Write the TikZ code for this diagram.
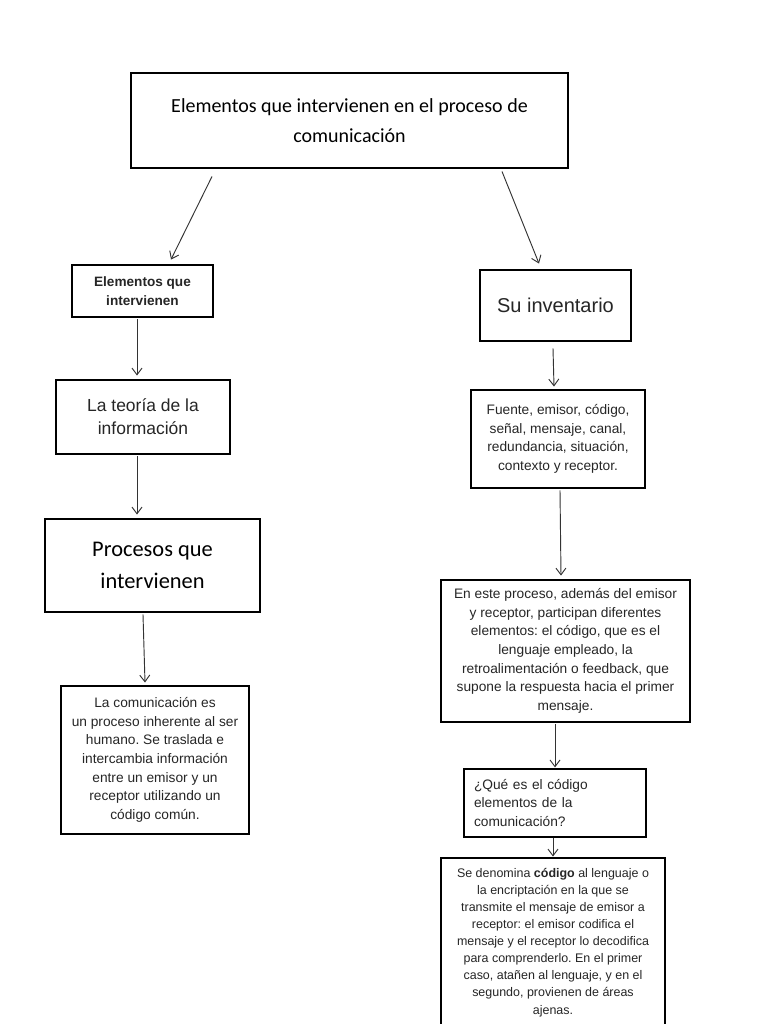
\documentclass[tikz,border=0pt]{standalone}
\usepackage{fontspec}
\setmainfont{Liberation Sans}
\newfontfamily\calibri{Carlito}
\usetikzlibrary{calc,arrows.meta}
\frenchspacing
\begin{document}
\begin{tikzpicture}[x=0.75pt,y=-0.75pt,>={Straight Barb[length=5pt,width=7.5pt]},
    box/.style={draw,line width=2.2pt,align=center,inner sep=0pt,text=black!85},
    thinbox/.style={draw,line width=0.9pt,align=left,inner sep=0pt,text=black!85},
    small/.style={font=\fontsize{10.3}{14}\selectfont},
    link/.style={->,draw=black!80,line width=0.7pt}
  ]
  \useasboundingbox[fill=white] (0,0) rectangle (768,1024);

  % left column
  \node[box,minimum width=327.75pt,minimum height=71.25pt,text=black,
    font=\calibri\fontsize{15}{22.5}\selectfont] (title) at (349.5,120.5)
    {Elementos que intervienen en el proceso de\\comunicación};
  \node[box,minimum width=105.75pt,minimum height=39pt,
    font=\bfseries\fontsize{10.2}{14.3}\selectfont] (elem) at (142.5,291)
    {Elementos que\\intervienen};
  \node[box,minimum width=130.5pt,minimum height=55.5pt,
    font=\fontsize{13.1}{17.3}\selectfont] (teoria) at (143,417)
    {La teoría de la\\información};
  \node[box,minimum width=161.25pt,minimum height=69.75pt,text=black,
    font=\calibri\fontsize{16.8}{24}\selectfont] (procesos) at (152.5,565.5)
    {Procesos que\\intervienen};
  \node[box,small,minimum width=141pt,minimum height=111pt] (comunic) at (155,760)
    {La comunicación es\\un proceso inherente al ser\\humano. Se traslada e\\
     intercambia información\\entre un emisor y un\\receptor utilizando un\\código común.};

  % right column
  \node[box,minimum width=113.25pt,minimum height=53.25pt,
    font=\fontsize{15}{18}\selectfont] (inv) at (555.5,305.5) {Su inventario};
  \node[box,small,minimum width=130.5pt,minimum height=73.5pt] (fuente) at (558,439)
    {Fuente, emisor, código,\\señal, mensaje, canal,\\redundancia, situación,\\contexto y receptor.};
  \node[box,small,minimum width=186.75pt,minimum height=106.5pt] (proceso) at (565.5,651)
    {En este proceso, además del emisor\\y receptor, participan diferentes\\
     elementos: el código, que es el\\lenguaje empleado, la\\
     retroalimentación o feedback, que\\supone la respuesta hacia el primer\\mensaje.};
  \node[thinbox,small,minimum width=136.5pt,minimum height=51pt,
    text width=121.5pt,inner xsep=7.5pt] (codigo) at (555,803)
    {¿Qué es el código\\elementos de la\\comunicación?};
  \node[box,minimum width=168pt,minimum height=126.75pt,
    font=\fontsize{9.35}{12.8}\selectfont] (denomina) at (553,942.5)
    {Se denomina \textbf{código} al lenguaje o\\la encriptación en la que se\\
     transmite el mensaje de emisor a\\receptor: el emisor codifica el\\
     mensaje y el receptor lo decodifica\\para comprenderlo. En el primer\\
     caso, atañen al lenguaje, y en el\\segundo, provienen de áreas\\ajenas.};

  % arrows
  \draw[link] ($(title.south)+(-137.5,7)$) -- ($(elem.north)+(28.5,-4)$);
  \draw[link] ($(title.south)+(152.5,2)$) -- ($(inv.north)+(-16.5,-5)$);
  \draw[link] ($(elem.south)+(-5.5,1)$) -- ($(teoria.north)+(-6,-3)$);
  \draw[link] ($(teoria.south)+(-6,1)$) -- ($(procesos.north)+(-15.5,-3)$);
  \draw[link] ($(procesos.south)+(-9.5,1)$) -- ($(comunic.north)+(-10,-2)$);
  \draw[link] ($(inv.south)+(-2.5,6)$) -- ($(fuente.north)+(-4,-2)$);
  \draw[link] ($(fuente.south)+(2,1)$) -- ($(proceso.north)+(-4.5,-3)$);
  \draw[link] ($(proceso.south)+(-10.5,1)$) -- ($(codigo.north)+(0,-1)$);
  \draw[link] ($(codigo.south)+(-2,0)$) -- (denomina.north);
\end{tikzpicture}
\end{document}
